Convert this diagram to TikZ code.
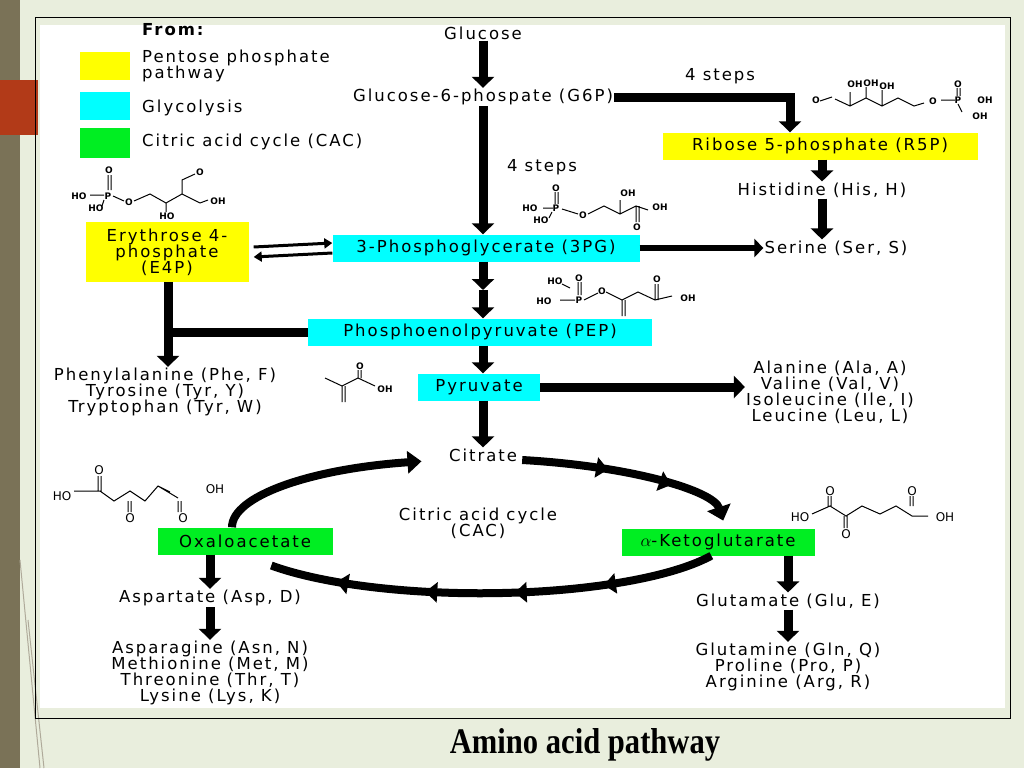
\documentclass[tikz,border=0pt]{standalone}
\usepackage{fontspec}
\setmainfont{DejaVu Sans}[LetterSpace=12]
\newfontfamily\chemfont{DejaVu Sans}
\newfontfamily\titlefont{Liberation Serif}
\usetikzlibrary{arrows.meta,decorations.markings}
\definecolor{bgc}{HTML}{E9EEDD}
\definecolor{olive}{HTML}{7A7257}
\definecolor{brick}{HTML}{B23A18}
\definecolor{pyel}{HTML}{FFFF00}
\definecolor{pcyan}{HTML}{00FFFF}
\definecolor{pgreen}{HTML}{00EE22}
\begin{document}
\begin{tikzpicture}[x=1pt,y=-1pt,
  txt/.style={font=\fontsize{16.5}{16}\selectfont,inner sep=1pt,align=center},
  box/.style={txt,minimum height=27pt},
  yel/.style={box,fill=pyel},
  cya/.style={box,fill=pcyan},
  grn/.style={box,fill=pgreen},
  chem/.style={font=\chemfont\fontsize{9}{10}\selectfont\bfseries,inner sep=0.5pt},
  bond/.style={line width=1pt},
  big/.style={line width=9pt,-{Triangle[width=22pt,length=11pt]}},
  thin/.style={line width=6pt,-{Triangle[width=18pt,length=9pt]}},
  cyc/.style={line width=8pt},
  mid/.style={postaction={decorate,decoration={markings,
    mark=at position #1 with {\arrow{Triangle[width=20pt,length=12pt]}}}}},
]
\useasboundingbox (0,0) rectangle (1024,768);
% slide background
\fill[bgc] (0,0) rectangle (1024,768);
\fill[olive] (0,0) rectangle (20,768);
\fill[brick] (0,80) rectangle (38,135);
\draw[olive!60,line width=1pt] (20,560) -- (40,768) (28,620) -- (44,768);
\fill[white] (40,25) rectangle (1005,708);
\draw[line width=1pt] (35,18) rectangle (1010,718);
\node[font=\titlefont\bfseries\fontsize{36}{38}\selectfont,xscale=0.85] (title) at (585,745) {Amino acid pathway};

% legend
\node[txt,font=\fontsize{16.5}{16}\selectfont\bfseries,anchor=west] (from) at (141,30) {From:};
\fill[pyel] (80,52) rectangle (130,80);
\fill[pcyan] (80,92) rectangle (130,120);
\fill[pgreen] (80,128) rectangle (130,158);
\node[txt,anchor=west,align=left] (lp) at (141,66) {Pentose phosphate\\pathway};
\node[txt,anchor=west] (lg) at (141,108) {Glycolysis};
\node[txt,anchor=west] (lc) at (141,142) {Citric acid cycle (CAC)};

% main nodes
\node[txt] (glc) at (483,33) {Glucose};
\node[txt] (g6p) at (483,97) {Glucose-6-phospate (G6P)};
\node[yel,minimum width=315pt] (r5p) at (820,146) {Ribose 5-phosphate (R5P)};
\node[txt] (his) at (822,190) {Histidine (His, H)};
\node[cya,minimum width=307pt] (pg3) at (486,248) {3-Phosphoglycerate (3PG)};
\node[txt] (ser) at (836,248) {Serine (Ser, S)};
\node[yel,minimum width=163pt,minimum height=60pt] (e4p) at (167,252) {Erythrose 4-\\phosphate\\(E4P)};
\node[cya,minimum width=344pt] (pep) at (480,332) {Phosphoenolpyruvate (PEP)};
\node[txt] (phe) at (165,392) {Phenylalanine (Phe, F)\\Tyrosine (Tyr, Y)\\Tryptophan (Tyr, W)};
\node[cya,minimum width=122pt] (pyr) at (479,387) {Pyruvate};
\node[txt] (ala) at (830,392) {Alanine (Ala, A)\\Valine (Val, V)\\Isoleucine (Ile, I)\\Leucine (Leu, L)};
\node[txt] (cit) at (483,455) {Citrate};
\node[txt] (cac) at (478,523) {Citric acid cycle\\(CAC)};
\node[grn,minimum width=175pt] (oaa) at (245,541) {Oxaloacetate};
\node[grn,minimum width=193pt] (akg) at (718,542) {$\alpha$-Ketoglutarate};
\node[txt] (asp) at (210,598) {Aspartate (Asp, D)};
\node[txt] (asn) at (210,673) {Asparagine (Asn, N)\\Methionine (Met, M)\\Threonine (Thr, T)\\Lysine (Lys, K)};
\node[txt] (glu) at (788,601) {Glutamate (Glu, E)};
\node[txt] (gln) at (788,667) {Glutamine (Gln, Q)\\Proline (Pro, P)\\Arginine (Arg, R)};
\node[txt] (s1) at (542,167) {4 steps};
\node[txt] (s2) at (720,76) {4 steps};

% connectors
\coordinate (corner) at (790,97);
\coordinate (pepl) at (168,332);
\coordinate (mainx) at (483,0);
\coordinate (mid3) at (483,290);
\draw[big] (glc) -- (g6p);
\draw[big] (g6p) -- (g6p.center |- pg3.north);
\draw[line width=9pt] (g6p.east) -- ([xshift=4.5pt]corner);
\draw[big] (corner) -- (r5p.north -| corner);
\draw[big] (his.north |- r5p.south) -- (his);
\draw[big] (his.south) -- (his.south |- ser.north);
\draw[thin] (pg3.east) -- (ser.west);
\draw[big] (pg3.south -| mainx) -- (mid3);
\draw[big] (mid3) -- (pep.north -| mainx);
\draw[line width=9pt] (pep.west) -- ([xshift=-4.5pt]pepl);
\draw[big] (e4p.south -| pepl) -- (phe.north -| pepl);
\draw[big] (pep.south -| mainx) -- (pyr.north -| mainx);
\draw[big] (pyr.east) -- (pyr.east -| ala.west);
\draw[big] (pyr.south -| mainx) -- (cit.north -| mainx);
\draw[line width=3pt,-{Triangle[width=10pt,length=8pt]}] ([xshift=5pt,yshift=5pt]e4p.east) -- ([yshift=5pt]pg3.west);
\draw[line width=3pt,-{Triangle[width=10pt,length=8pt]}] ([yshift=-5pt]pg3.west) -- ([xshift=5pt,yshift=-5pt]e4p.east);
\draw[big] (oaa.south -| asp) -- (asp);
\draw[big] (asp.south) -- (asn.north);
\draw[big] (akg.south -| glu) -- (glu);
\draw[big] (glu) -- (gln);

% citric acid cycle
\coordinate (cc) at (480,518);
\draw[cyc,-{Triangle[width=22pt,length=14pt]}] (oaa.north -| 232,0) arc[start angle=180,end angle=256,x radius=250,y radius=68];
\draw[cyc,mid=0.4,mid=0.7,-{Triangle[width=24pt,length=14pt]}] (cit.east) ++(4,5) arc[start angle=282,end angle=355,x radius=255,y radius=68];
\draw[cyc,mid=0.25,mid=0.45,mid=0.65,mid=0.85] (akg.south west) ++(90,0) arc[start angle=25,end angle=145,x radius=255,y radius=65];

% erythrose 4-phosphate
\begin{scope}[bond]
\draw (90,195) -- (104,195) (108,190) -- (108,175) (111,190) -- (111,175)
  (104,200) -- (102,206) (113,196) -- (124,201) (134,201) -- (150,194) -- (166,203) -- (182,194) -- (200,203)
  (166,203) -- (166,212) (182,194) -- (182,180) -- (195,174) (200,203) -- (208,200);
\end{scope}
\node[chem] (e1) at (79,196) {HO};
\node[chem] (e2) at (108,196) {P};
\node[chem] (e3) at (109,170) {O};
\node[chem] (e4) at (96,208) {HO};
\node[chem] (e5) at (129,202) {O};
\node[chem] (e6) at (167,216) {HO};
\node[chem] (e7) at (218,201) {OH};
\node[chem] (e8) at (200,172) {O};
% 3-phosphoglycerate
\begin{scope}[bond]
\draw (543,208) -- (553,208) (555,204) -- (555,192) (558,204) -- (558,192) (552,212) -- (549,218)
  (562,209) -- (578,214) (588,214) -- (604,206) -- (620,214) -- (636,206) -- (648,210)
  (620,214) -- (620,200) (636,206) -- (636,222) (639,206) -- (639,222);
\end{scope}
\node[chem] (p1) at (530,208) {HO};
\node[chem] (p2) at (556,208) {P};
\node[chem] (p3) at (556,188) {O};
\node[chem] (p4) at (541,220) {HO};
\node[chem] (p5) at (583,215) {O};
\node[chem] (p6) at (628,193) {OH};
\node[chem] (p7) at (637,227) {O};
\node[chem] (p8) at (660,207) {OH};
% phosphoenolpyruvate
\begin{scope}[bond]
\draw (560,300) -- (575,300) (578,295) -- (578,282) (581,295) -- (581,282) (570,288) -- (562,284)
  (584,300) -- (598,293) (606,292) -- (622,300) -- (638,292) -- (655,300) -- (672,296)
  (622,300) -- (622,316) (625,300) -- (625,316) (655,300) -- (655,284) (658,300) -- (658,284);
\end{scope}
\node[chem] (q1) at (555,281) {HO};
\node[chem] (q2) at (579,300) {P};
\node[chem] (q3) at (579,278) {O};
\node[chem] (q4) at (544,301) {HO};
\node[chem] (q5) at (602,291) {O};
\node[chem] (q6) at (657,279) {O};
\node[chem] (q7) at (688,298) {OH};
% pyruvate
\begin{scope}[bond]
\draw (325,378) -- (342,386) -- (358,378) -- (375,386) (342,386) -- (342,402) (345,386) -- (345,402)
  (358,378) -- (358,370) (361,378) -- (361,370);
\end{scope}
\node[chem] (y1) at (360,366) {O};
\node[chem] (y2) at (385,389) {OH};
% ribose 5-phosphate
\begin{scope}[bond]
\draw (820,101) -- (832,97) (835,99) -- (850,106) -- (866,98) -- (882,106) -- (898,98) -- (914,106) -- (924,103)
  (850,106) -- (850,92) (866,98) -- (866,87) (882,106) -- (882,90) (941,100) -- (955,100)
  (957,96) -- (957,88) (960,96) -- (960,88) (958,104) -- (962,112);
\end{scope}
\node[chem] (r1) at (816,100) {O};
\node[chem] (r2) at (855,84) {OH};
\node[chem] (r3) at (871,83) {OH};
\node[chem] (r4) at (887,86) {OH};
\node[chem] (r5) at (933,101) {O};
\node[chem] (r6) at (958,100) {P};
\node[chem] (r7) at (958,84) {O};
\node[chem] (r8) at (985,100) {OH};
\node[chem] (r9) at (980,116) {OH};
% oxaloacetate
\begin{scope}[font=\chemfont\fontsize{12}{13}\selectfont]
\begin{scope}[bond]
\draw (74,491) -- (100,491) -- (114,501) -- (130,491) -- (145,501) -- (158,486) -- (170,492)
  (98,491) -- (98,476) (101,491) -- (101,476) (128,501) -- (128,512) (131,501) -- (131,512)
  (178,501) -- (178,512) (181,501) -- (181,512) (158,486) -- (178,498);
\end{scope}
\node[inner sep=0.5pt] (o1) at (62,496) {HO};
\node[inner sep=0.5pt] (o2) at (99,470) {O};
\node[inner sep=0.5pt] (o3) at (130,518) {O};
\node[inner sep=0.5pt] (o4) at (183,518) {O};
\node[inner sep=0.5pt] (o5) at (215,489) {OH};
% alpha-ketoglutarate
\begin{scope}[bond]
\draw (812,514) -- (830,506) -- (846,516) -- (862,506) -- (880,514) -- (896,506) -- (912,516) -- (928,516)
  (828,506) -- (828,496) (831,506) -- (831,496) (844,516) -- (844,528) (847,516) -- (847,528)
  (910,506) -- (910,496) (913,506) -- (913,496);
\end{scope}
\node[inner sep=0.5pt] (k1) at (800,517) {HO};
\node[inner sep=0.5pt] (k2) at (830,491) {O};
\node[inner sep=0.5pt] (k3) at (846,534) {O};
\node[inner sep=0.5pt] (k4) at (912,491) {O};
\node[inner sep=0.5pt] (k5) at (945,517) {OH};
\end{scope}
\end{tikzpicture}
\end{document}
